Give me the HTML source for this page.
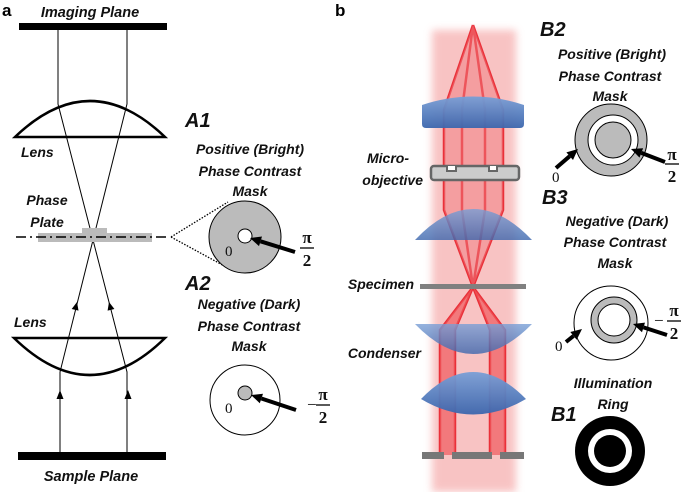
<!DOCTYPE html>
<html><head><meta charset="utf-8"><style>
body{margin:0;background:#fff}
svg{display:block}
.t{font-family:"Liberation Sans",sans-serif;font-weight:bold;font-style:italic;fill:#111}
.s{font-family:"Liberation Serif",serif;fill:#111}
</style></head><body>
<svg width="685" height="492" viewBox="0 0 685 492" xmlns="http://www.w3.org/2000/svg">
<defs>
<linearGradient id="bl" x1="0" y1="0" x2="0" y2="1"><stop offset="0" stop-color="#7a9fd6"/><stop offset="1" stop-color="#3c66ad"/></linearGradient>
<filter id="bb"><feGaussianBlur stdDeviation="4"/></filter>
</defs>
<text x="2" y="16" font-family="Liberation Sans" font-weight="bold" font-size="17">a</text>
<text x="335" y="16" font-family="Liberation Sans" font-weight="bold" font-size="17">b</text>
<!-- left panel -->
<text class="t" x="90" y="17" font-size="14.5" text-anchor="middle">Imaging Plane</text>
<rect x="19" y="23" width="148" height="7" fill="#000"/>
<rect x="18" y="452" width="148" height="8" fill="#000"/>
<text class="t" x="91" y="481" font-size="14.5" text-anchor="middle">Sample Plane</text>
<path d="M58,30V104L127,372V453M127,30V104L60,372V453" fill="none" stroke="#000" stroke-width="1"/>
<path d="M15,137H165Q90,65 15,137Z" fill="none" stroke="#000" stroke-width="2.5"/>
<path d="M14,338H165Q90,412 14,338Z" fill="none" stroke="#000" stroke-width="2.5"/>
<rect x="38" y="233" width="114" height="9" fill="#bbb"/>
<rect x="82" y="228" width="25" height="6" fill="#bbb"/>
<line x1="16" y1="237" x2="170" y2="237" stroke="#000" stroke-width="1.5" stroke-dasharray="10,4,2,4"/>
<polygon points="60,390 56.5,399 63.5,399" fill="#000"/>
<polygon points="128,390 124.5,399 131.5,399" fill="#000"/>
<polygon points="77,302 78.5,310.6 71.7,309" fill="#000"/>
<polygon points="109,302 114.4,309 107.6,310.6" fill="#000"/>
<text class="t" x="21" y="157" font-size="14">Lens</text>
<text class="t" x="14" y="327" font-size="14">Lens</text>
<text class="t" x="47" y="205" font-size="14" text-anchor="middle">Phase</text>
<text class="t" x="47" y="227" font-size="14" text-anchor="middle">Plate</text>
<path d="M171,237L228,202M171,237L228,268" stroke="#000" stroke-width="1.3" stroke-dasharray="1.5,1.5"/>
<text class="t" x="185" y="127" font-size="20">A1</text>
<text class="t" x="250" y="154" font-size="14" text-anchor="middle">Positive (Bright)</text>
<text class="t" x="250" y="176" font-size="14" text-anchor="middle">Phase Contrast</text>
<text class="t" x="250" y="196" font-size="14" text-anchor="middle">Mask</text>
<circle cx="245" cy="237" r="36" fill="#bbb" stroke="#000" stroke-width="1"/>
<circle cx="245" cy="236" r="7" fill="#fff" stroke="#000" stroke-width="1"/>
<line x1="295" y1="252" x2="260.5" y2="241.3" stroke="#000" stroke-width="4"/>
<polygon points="250,238 262,236.5 259,246.1" fill="#000"/>
<text class="s" x="225" y="256" font-size="15">0</text>
<text class="s" x="307" y="243" font-size="17" font-weight="bold" text-anchor="middle">π</text>
<line x1="300" y1="248" x2="314" y2="248" stroke="#000" stroke-width="1.3"/>
<text class="s" x="307" y="266" font-size="17" font-weight="bold" text-anchor="middle">2</text>
<text class="t" x="185" y="290" font-size="20">A2</text>
<text class="t" x="249" y="309" font-size="14" text-anchor="middle">Negative (Dark)</text>
<text class="t" x="249" y="331" font-size="14" text-anchor="middle">Phase Contrast</text>
<text class="t" x="249" y="351" font-size="14" text-anchor="middle">Mask</text>
<circle cx="245" cy="400" r="35" fill="#fff" stroke="#000" stroke-width="1"/>
<circle cx="245" cy="393" r="7" fill="#bbb" stroke="#000" stroke-width="1"/>
<line x1="296" y1="410" x2="261.4" y2="398.5" stroke="#000" stroke-width="4"/>
<polygon points="251,395 263,393.8 259.8,403.2" fill="#000"/>
<text class="s" x="225" y="413" font-size="15">0</text>
<text class="s" x="307" y="410" font-size="17">−</text>
<text class="s" x="323" y="400" font-size="17" font-weight="bold" text-anchor="middle">π</text>
<line x1="316" y1="405" x2="330" y2="405" stroke="#000" stroke-width="1.3"/>
<text class="s" x="323" y="423" font-size="17" font-weight="bold" text-anchor="middle">2</text>
<!-- right panel beams -->
<rect x="432" y="30" width="84" height="462" fill="#f7b5b5" filter="url(#bb)" opacity="0.8"/>
<g stroke="#e8202a" stroke-width="2.5" fill="none" opacity="0.9">
<path d="M473,25L444,110V210L473,287M473,25L462,110V210L473,287M473,25L485,110V210L473,287M473,25L503,110V210L473,287"/>
<path d="M473,287L440,330V455M473,287L455,330V455M473,287L490,330V455M473,287L505,330V455"/>
</g>
<path d="M473,287L440,330V455H455V330Z M473,287L490,330V455H505V330Z" fill="#ef5a5e" opacity="0.7"/>
<path d="M473,25L444,110V210L473,287L503,210V110Z" fill="#f07a7e" opacity="0.5"/>
<!-- lenses -->
<path d="M422,105Q473,88 524,105V124Q524,128 520,128H426Q422,128 422,124Z" fill="url(#bl)" opacity="0.95"/>
<rect x="431" y="166" width="88" height="14" rx="3" fill="#ccc" stroke="#666" stroke-width="2.5"/>
<path d="M447,166V171H456V166M489,166V171H497V166" fill="#fff" stroke="#666" stroke-width="2"/>
<path d="M415,240Q473,178 532,240Z" fill="url(#bl)" opacity="0.8"/>
<rect x="420" y="284" width="106" height="5" fill="#808080"/>
<path d="M415,324H532Q473,384 415,324Z" fill="url(#bl)" opacity="0.8"/>
<path d="M421,399Q473,345 526,399Q473,430 421,399Z" fill="url(#bl)" opacity="0.95"/>
<rect x="422" y="452" width="22" height="7" fill="#777"/>
<rect x="452" y="452" width="40" height="7" fill="#777"/>
<rect x="500" y="452" width="24" height="7" fill="#777"/>
<text class="t" x="409" y="163" font-size="14" text-anchor="end">Micro-</text>
<text class="t" x="423" y="185" font-size="14" text-anchor="end">objective</text>
<text class="t" x="414" y="289" font-size="14" text-anchor="end">Specimen</text>
<text class="t" x="421" y="358" font-size="14" text-anchor="end">Condenser</text>
<!-- B2 -->
<text class="t" x="540" y="36" font-size="20">B2</text>
<text class="t" x="612" y="59" font-size="14" text-anchor="middle">Positive (Bright)</text>
<text class="t" x="610" y="81" font-size="14" text-anchor="middle">Phase Contrast</text>
<text class="t" x="610" y="101" font-size="14" text-anchor="middle">Mask</text>
<circle cx="611" cy="140" r="36" fill="#bbb" stroke="#000"/>
<circle cx="613" cy="140" r="25" fill="#fff" stroke="#000"/>
<circle cx="613" cy="140" r="18" fill="#bbb" stroke="#000"/>
<line x1="556" y1="168" x2="569.7" y2="156.2" stroke="#000" stroke-width="4"/>
<polygon points="578,149 573,160 566.4,152.4" fill="#000"/>
<line x1="665" y1="162" x2="641.3" y2="152.9" stroke="#000" stroke-width="4"/>
<polygon points="631,149 643.1,148.2 639.5,157.6" fill="#000"/>
<text class="s" x="552" y="182" font-size="15">0</text>
<text class="s" x="672" y="160" font-size="17" font-weight="bold" text-anchor="middle">π</text>
<line x1="665" y1="164" x2="679" y2="164" stroke="#000" stroke-width="1.3"/>
<text class="s" x="672" y="182" font-size="17" font-weight="bold" text-anchor="middle">2</text>
<!-- B3 -->
<text class="t" x="542" y="204" font-size="20">B3</text>
<text class="t" x="617" y="226" font-size="14" text-anchor="middle">Negative (Dark)</text>
<text class="t" x="615" y="247" font-size="14" text-anchor="middle">Phase Contrast</text>
<text class="t" x="615" y="268" font-size="14" text-anchor="middle">Mask</text>
<circle cx="611" cy="323" r="37" fill="#fff" stroke="#000"/>
<circle cx="614" cy="320" r="23" fill="#bbb" stroke="#000"/>
<circle cx="614" cy="320" r="16" fill="#fff" stroke="#000"/>
<line x1="566" y1="342" x2="573.5" y2="335.9" stroke="#000" stroke-width="4"/>
<polygon points="582,329 576.7,339.8 570.3,332" fill="#000"/>
<line x1="667" y1="335" x2="643.5" y2="327.4" stroke="#000" stroke-width="4"/>
<polygon points="633,324 645,322.6 642,332.2" fill="#000"/>
<text class="s" x="555" y="351" font-size="15">0</text>
<text class="s" x="654" y="326" font-size="17">−</text>
<text class="s" x="674" y="316" font-size="17" font-weight="bold" text-anchor="middle">π</text>
<line x1="667" y1="321" x2="681" y2="321" stroke="#000" stroke-width="1.3"/>
<text class="s" x="674" y="339" font-size="17" font-weight="bold" text-anchor="middle">2</text>
<!-- B1 -->
<text class="t" x="613" y="388" font-size="14" text-anchor="middle">Illumination</text>
<text class="t" x="613" y="409" font-size="14" text-anchor="middle">Ring</text>
<text class="t" x="551" y="421" font-size="20">B1</text>
<circle cx="610" cy="451" r="35" fill="#000"/>
<circle cx="610" cy="451" r="22" fill="#fff"/>
<circle cx="610" cy="451" r="16" fill="#000"/>
</svg>
</body></html>
